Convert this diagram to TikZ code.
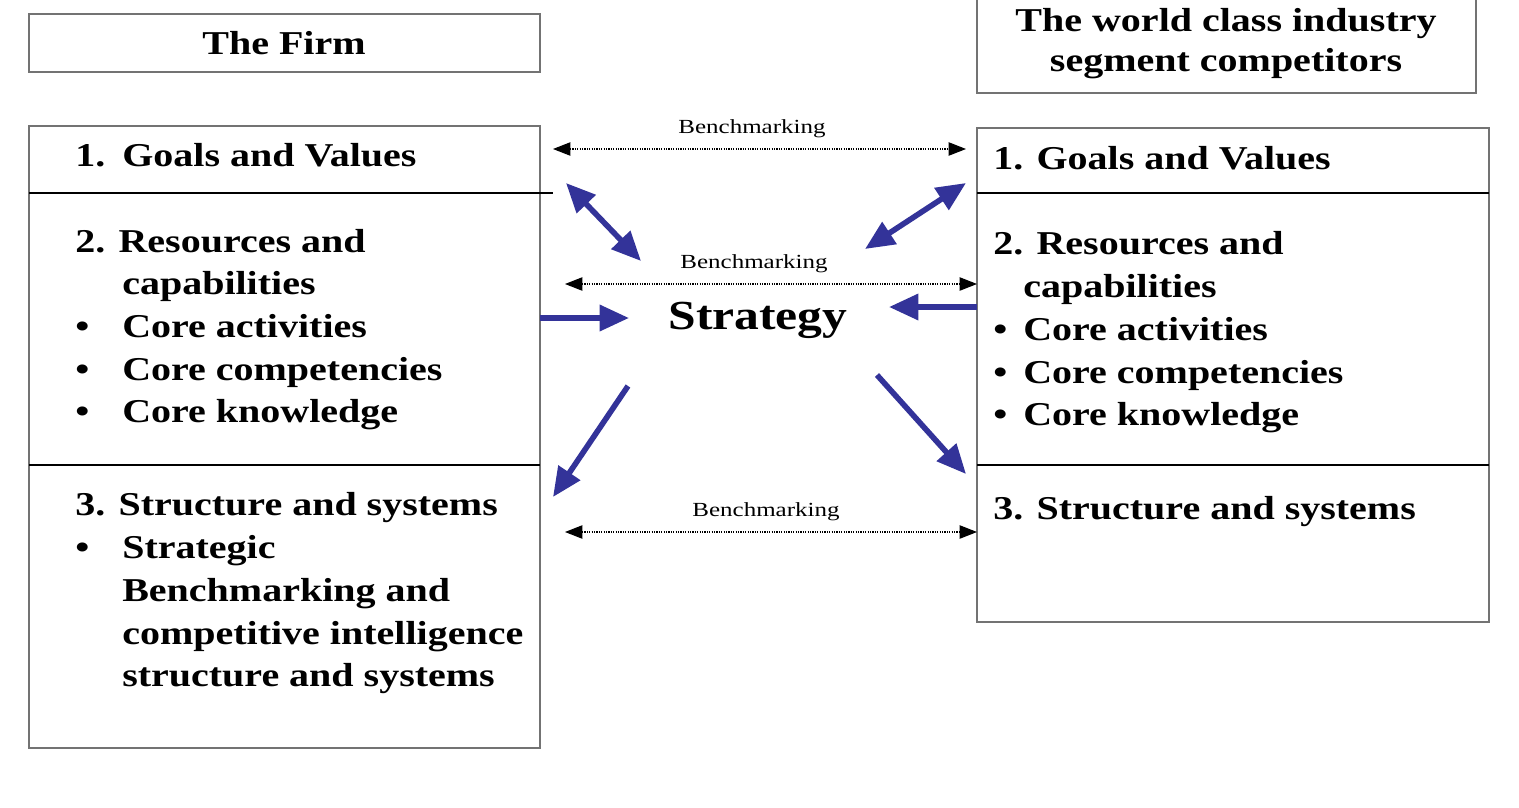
\documentclass[tikz,border=0pt]{standalone}
\usepackage{fontspec}
\setmainfont{Liberation Serif}
\newfontfamily\wideserif[FakeStretch=1.2]{Liberation Serif}
\newfontfamily\smallserif[FakeStretch=1.25]{Liberation Serif}
\usetikzlibrary{arrows.meta}
\definecolor{ab}{RGB}{51,51,153}
\begin{document}
\begin{tikzpicture}[x=0.75pt,y=-0.75pt,
  box/.style={draw=gray!90!black,line width=1pt},
  txt/.style={anchor=base west,font=\wideserif\bfseries\fontsize{25}{28}\selectfont,inner sep=0},
  bm/.style={font=\smallserif\fontsize{15}{17}\selectfont,inner sep=0},
  dl/.style={densely dotted,line width=0.8pt,{Triangle[length=13pt,width=10pt]}-{Triangle[length=13pt,width=10pt]}},
  ba/.style={ab,line width=4.2pt,-{Triangle[length=22pt,width=19pt]}},
  bb/.style={ab,line width=4.2pt,{Triangle[length=22pt,width=19pt]}-{Triangle[length=22pt,width=19pt]}}]
\useasboundingbox (0,0) rectangle (1519,807);
% headers
\draw[box] (29,14) rectangle (540,72);
\node[font=\wideserif\bfseries\fontsize{25}{28}\selectfont] (hf) at (284,43) {The Firm};
\draw[box] (977,-2) rectangle (1476,93);
\node[font=\wideserif\bfseries\fontsize{25}{30}\selectfont,align=center] (hw) at (1226,44) {The world class industry\\segment competitors};
% left box
\draw[box] (29,126) rectangle (540,748);
\draw[line width=1pt] (29,193) -- (553,193);
\draw[line width=1pt] (29,465) -- (540,465);
\node[txt] (l1n) at (75,166) {1.}; \node[txt] (l1) at (122,166) {Goals and Values};
\node[txt] (l2) at (75,252) {2. Resources and};
\node[txt] (l2b) at (122,294) {capabilities};
\node[txt] (lb1) at (75,337) {•}; \node[txt] (l3) at (122,337) {Core activities};
\node[txt] (lb2) at (75,380) {•}; \node[txt] (l4) at (122,380) {Core competencies};
\node[txt] (lb3) at (75,422) {•}; \node[txt] (l5) at (122,422) {Core knowledge};
\node[txt] (l6) at (75,515) {3. Structure and systems};
\node[txt] (lb4) at (75,558) {•}; \node[txt] (l7) at (122,558) {Strategic};
\node[txt] (l8) at (122,601) {Benchmarking and};
\node[txt] (l9) at (122,644) {competitive intelligence};
\node[txt] (l10) at (122,686) {structure and systems};
% right box
\draw[box] (977,128) rectangle (1489,622);
\draw[line width=1pt] (977,193) -- (1489,193);
\draw[line width=1pt] (977,465) -- (1489,465);
\node[txt] (r1) at (993,169) {1. Goals and Values};
\node[txt] (r2) at (993,254) {2. Resources and};
\node[txt] (r2b) at (1023,297) {capabilities};
\node[txt] (rb1) at (993,340) {•}; \node[txt] (r3) at (1023,340) {Core activities};
\node[txt] (rb2) at (993,383) {•}; \node[txt] (r4) at (1023,383) {Core competencies};
\node[txt] (rb3) at (993,425) {•}; \node[txt] (r5) at (1023,425) {Core knowledge};
\node[txt] (r6) at (993,519) {3. Structure and systems};
% strategy
\node[font=\wideserif\bfseries\fontsize{31}{36}\selectfont] (st) at (758,320) {Strategy};
% benchmarking
\coordinate (d1a) at (553,149); \coordinate (d1b) at (966,149);
\coordinate (d2a) at (565,284); \coordinate (d2b) at (977,284);
\coordinate (d3a) at (565,532); \coordinate (d3b) at (977,532);
\draw[dl] (d1a) -- (d1b); \node[bm] (b1) at (752,129) {Benchmarking};
\draw[dl] (d2a) -- (d2b); \node[bm] (b2) at (754,264) {Benchmarking};
\draw[dl] (d3a) -- (d3b); \node[bm] (b3) at (766,512) {Benchmarking};
% blue arrows
\coordinate (a1) at (566,183); \coordinate (a2) at (641,261);
\coordinate (a3) at (540,318); \coordinate (a4) at (629,318);
\coordinate (a5) at (628,386); \coordinate (a6) at (553,497);
\coordinate (a7) at (966,183); \coordinate (a8) at (865,249);
\coordinate (a9) at (977,307); \coordinate (a10) at (889,307);
\coordinate (a11) at (877,375); \coordinate (a12) at (966,474);
\draw[bb] (a1) -- (a2);
\draw[ba] (a3) -- (a4);
\draw[ba] (a5) -- (a6);
\draw[bb] (a7) -- (a8);
\draw[ba] (a9) -- (a10);
\draw[ba] (a11) -- (a12);
\end{tikzpicture}
\end{document}
